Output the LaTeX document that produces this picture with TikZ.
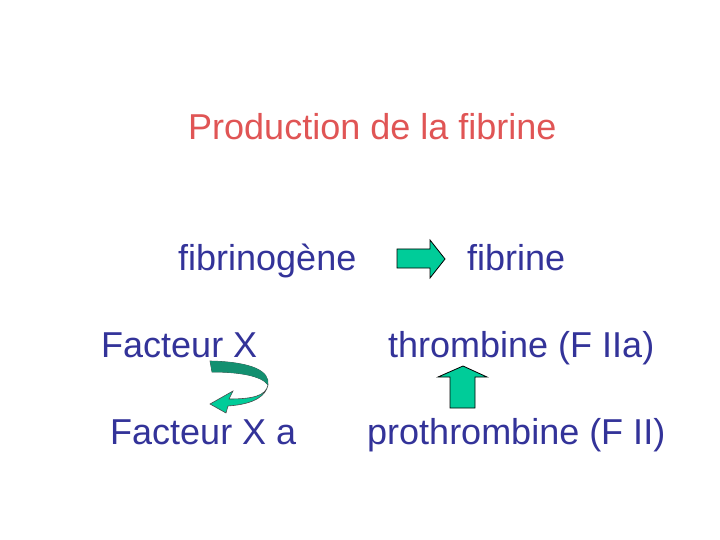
\documentclass[tikz,border=0pt]{standalone}
\usepackage{fontspec}
\setmainfont{Liberation Sans}
\definecolor{tblue}{HTML}{333399}
\definecolor{tred}{HTML}{E05555}
\definecolor{agreen}{HTML}{00CC99}
\definecolor{dgreen}{HTML}{139070}
\begin{document}
\begin{tikzpicture}[x=1bp,y=-1bp,
  lbl/.style={anchor=base west,inner sep=0,font=\fontsize{36bp}{40bp}\selectfont,text=tblue},
  arr/.style={fill=agreen,draw=black,line width=0.8bp,line join=miter}]
\useasboundingbox (0,0) rectangle (720,540);
\node[lbl,text=tred] (title) at (188,140) {Production de la fibrine};
\node[lbl] (fgn) at (178,271) {fibrinogène};
\node[lbl] (fib) at (467,271) {fibrine};
\node[lbl] (fx) at (101,357) {Facteur X};
\node[lbl] (thr) at (388,357) {thrombine (F IIa)};
\node[lbl] (fxa) at (110,444) {Facteur X a};
\node[lbl] (pro) at (367,444) {prothrombine (F II)};
% right arrow
\draw[arr] (397,249) -- (430,249) -- (430,240) -- (445,259) -- (430,278) -- (430,268) -- (397,268) -- cycle;
% up arrow
\draw[arr] (450,408) -- (450,377) -- (438,377) -- (463,366) -- (487,377) -- (475,377) -- (475,408) -- cycle;
% curved arrow
\draw[arr,draw=black!70,line width=0.6bp] (210,361) .. controls (252,362) and (270,371) .. (268,385)
  .. controls (266,396) and (252,399) .. (229,399) -- (233,391) -- (210,404) -- (226,413) -- (228,406)
  .. controls (256,404) and (266,395) .. (268,385)
  .. controls (262,376) and (240,372) .. (212,372) -- cycle;
\fill[dgreen] (210,361) .. controls (252,362) and (270,371) .. (268,385)
  .. controls (262,376) and (240,372) .. (212,372) -- cycle;
\end{tikzpicture}
\end{document}
